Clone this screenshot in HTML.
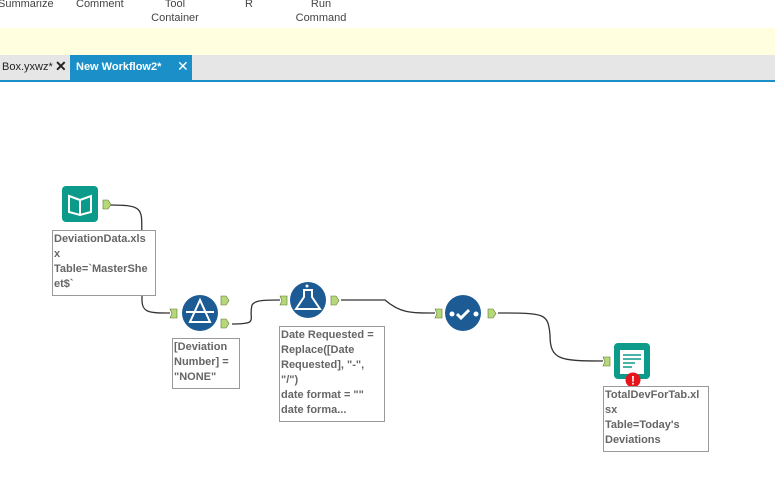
<!DOCTYPE html>
<html><head><style>
body{margin:0;width:775px;height:485px;overflow:hidden;background:#fff;font-family:"Liberation Sans",sans-serif;position:relative}
.t{position:absolute;font-size:11px;color:#444;text-align:center;line-height:14px}
.ann{position:absolute;border:1px solid #999;background:#fff;font-size:11px;font-weight:bold;color:#666;line-height:15px;padding:1px 0 0 1px;box-sizing:border-box;overflow:hidden;white-space:nowrap}
</style></head><body>
<div style="position:absolute;left:0;top:28px;width:775px;height:27px;background:#ffffe0"></div>
<div style="position:absolute;left:0;top:55px;width:775px;height:25px;background:#e6e6e6"></div>
<div style="position:absolute;left:70px;top:55px;width:122px;height:25px;background:#1a8fc8"></div>
<div style="position:absolute;left:0;top:80px;width:775px;height:2px;background:#1a8fc8"></div>
<div class="t" style="left:-2px;top:-3px">Summarize</div>
<div class="t" style="left:76px;top:-3px">Comment</div>
<div class="t" style="left:150px;top:-3px;width:50px">Tool<br>Container</div>
<div class="t" style="left:245px;top:-3px">R</div>
<div class="t" style="left:290px;top:-3px;width:62px">Run<br>Command</div>
<div style="position:absolute;left:2px;top:61px;font-size:11px;color:#222">Box.yxwz*</div>
<div style="position:absolute;left:55px;top:58px;font-size:14px;color:#222;font-weight:bold">✕</div>
<div style="position:absolute;left:76px;top:61px;font-size:11px;color:#fff;font-weight:bold">New Workflow2*</div>
<div style="position:absolute;left:177px;top:58px;font-size:14px;color:#fff">✕</div>
<svg width="775" height="485" style="position:absolute;left:0;top:0">
<g fill="none" stroke="#333" stroke-width="1.3">
<path d="M110 205 C150 205 140 210 142 250 L142 300 C142 313 150 313 170 313"/>
<path d="M232 324 C260 324 248 320 252 305 C255 300 265 300 280 300"/>
<path d="M341 300 C380 300 370 300 385 300 C400 313 410 313 435 313"/>
<path d="M498 313 C545 313 548 313 550 335 C550 360 560 361 603 361"/>
</g>
<g fill="#b7d87a" stroke="#5a7a2a" stroke-width="0.6">
<path d="M103 200h5l3 4.5-3 4.5h-5z"/>
<path d="M170 309h7v9h-7l2-4.5z"/>
<path d="M221 296h5l3 4.5-3 4.5h-5z"/><path d="M221 319h5l3 4.5-3 4.5h-5z"/>
<path d="M280 296h7v9h-7l2-4.5z"/><path d="M331 296h5l3 4.5-3 4.5h-5z"/>
<path d="M435 309h7v9h-7l2-4.5z"/><path d="M488 309h5l3 4.5-3 4.5h-5z"/>
<path d="M603 357h7v9h-7l2-4.5z"/>
</g>
<rect x="62" y="186" width="36" height="36" rx="4" fill="#0c9a8a"/>
<path d="M69 196 L80 200 L91 196 L91 212 L80 215 L69 212Z" fill="none" stroke="#fff" stroke-width="2"/>
<path d="M80 200V215" stroke="#fff" stroke-width="2"/>
<circle cx="200" cy="313" r="18" fill="#1c5b94"/>
<path d="M200 300 L190 322 L210 322Z M186 312 L214 312" fill="none" stroke="#fff" stroke-width="2"/>
<circle cx="308" cy="300" r="18" fill="#1c5b94"/>
<path d="M304 290v7l-8 12h24l-8-12v-7z" fill="none" stroke="#fff" stroke-width="2"/>
<circle cx="307" cy="286" r="1.5" fill="#fff"/>
<circle cx="463" cy="313" r="18" fill="#1c5b94"/>
<circle cx="452" cy="314" r="2.5" fill="#fff"/><circle cx="476" cy="314" r="2.5" fill="#fff"/>
<path d="M457 314l4 4 8-8" fill="none" stroke="#fff" stroke-width="3"/>
<rect x="614" y="343" width="36" height="36" rx="4" fill="#0c9a8a"/>
<rect x="620" y="350" width="24" height="24" fill="#fff"/>
<path d="M623 355h18M623 359h18M623 363h12M623 367h9" stroke="#0c9a8a" stroke-width="1.6"/>
<circle cx="633" cy="380" r="7.5" fill="#e8141c"/>
<text x="633" y="384.5" fill="#fff" font-size="12" font-weight="bold" text-anchor="middle" font-family="Liberation Sans">!</text>
</svg>
<div class="ann" style="left:52px;top:230px;width:104px;height:66px">DeviationData.xls<br>x<br>Table=`MasterShe<br>et$`</div>
<div class="ann" style="left:172px;top:338px;width:68px;height:51px">[Deviation<br>Number] =<br>"NONE"</div>
<div class="ann" style="left:279px;top:326px;width:106px;height:96px">Date Requested =<br>Replace([Date<br>Requested], "-",<br>"/")<br>date format = ""<br>date forma...</div>
<div class="ann" style="left:603px;top:386px;width:106px;height:66px">TotalDevForTab.xl<br>sx<br>Table=Today's<br>Deviations</div>
</body></html>
